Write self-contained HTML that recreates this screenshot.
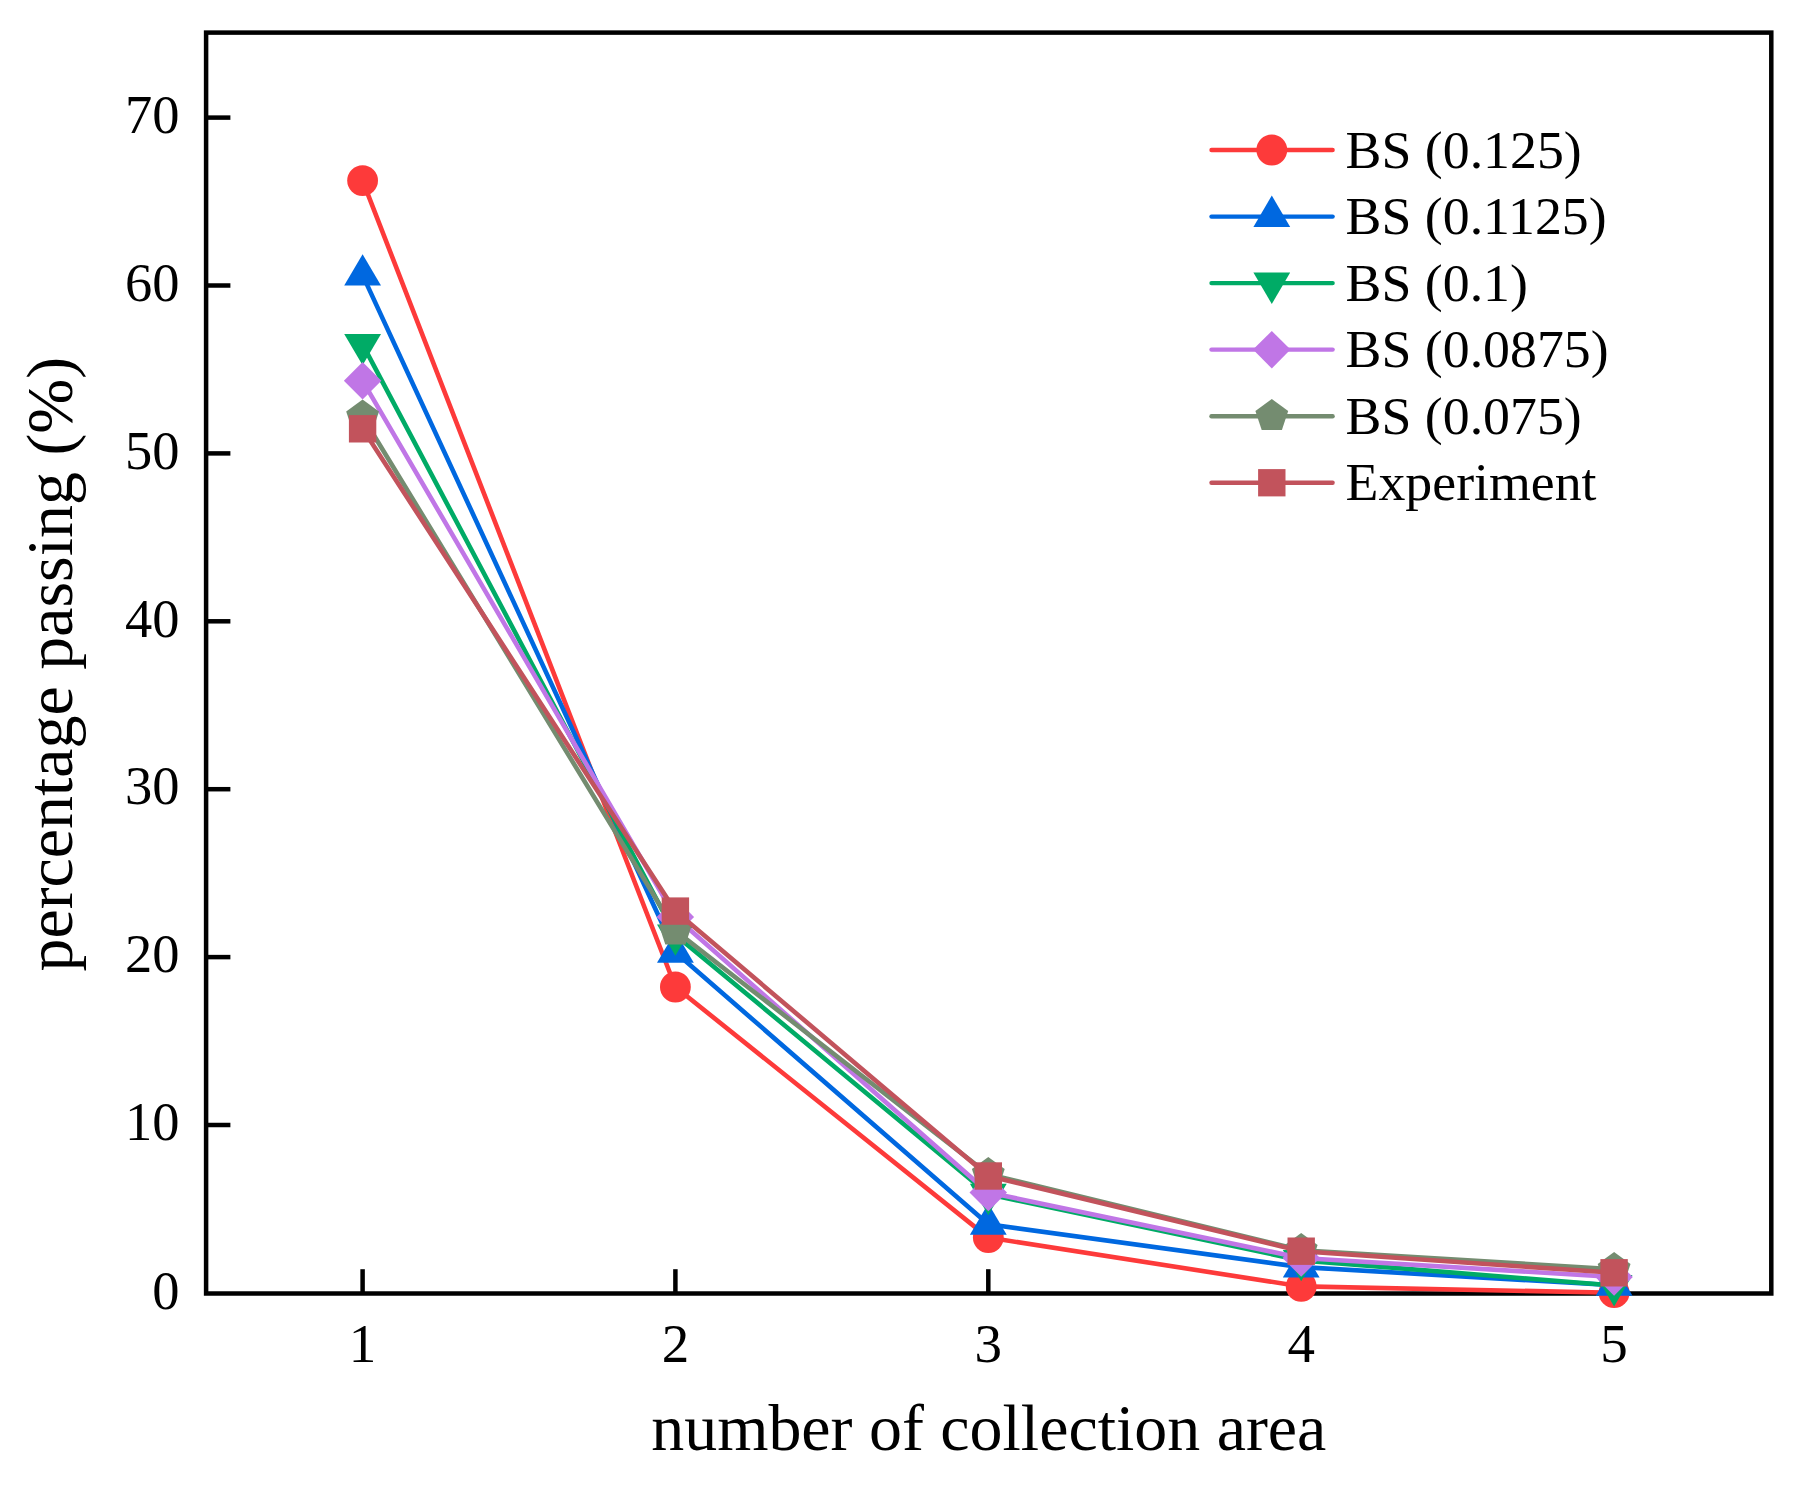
<!DOCTYPE html>
<html lang="en"><head><meta charset="utf-8"><title>percentage passing vs number of collection area</title>
<style>
html,body{margin:0;padding:0;background:#fff;}
body{width:1809px;height:1485px;overflow:hidden;}
svg{display:block;}
text{font-family:"Liberation Serif","Times New Roman",serif;fill:#000;}
.tk{font-size:54.5px;}
.lg{font-size:53.8px;}
.ti{font-size:65.9px;}
</style></head><body>
<svg width="1809" height="1485" viewBox="0 0 1809 1485">
<rect width="1809" height="1485" fill="#fff"/>
<rect x="206.1" y="32.6" width="1565.2" height="1260.9" fill="none" stroke="#000" stroke-width="4.5"/>
<line x1="206.1" y1="1125.0" x2="230.4" y2="1125.0" stroke="#000" stroke-width="4.5"/>
<line x1="206.1" y1="957.1" x2="230.4" y2="957.1" stroke="#000" stroke-width="4.5"/>
<line x1="206.1" y1="789.2" x2="230.4" y2="789.2" stroke="#000" stroke-width="4.5"/>
<line x1="206.1" y1="621.3" x2="230.4" y2="621.3" stroke="#000" stroke-width="4.5"/>
<line x1="206.1" y1="453.4" x2="230.4" y2="453.4" stroke="#000" stroke-width="4.5"/>
<line x1="206.1" y1="285.5" x2="230.4" y2="285.5" stroke="#000" stroke-width="4.5"/>
<line x1="206.1" y1="117.6" x2="230.4" y2="117.6" stroke="#000" stroke-width="4.5"/>
<line x1="362.6" y1="1293.5" x2="362.6" y2="1269.2" stroke="#000" stroke-width="4.5"/>
<line x1="675.4" y1="1293.5" x2="675.4" y2="1269.2" stroke="#000" stroke-width="4.5"/>
<line x1="988.3" y1="1293.5" x2="988.3" y2="1269.2" stroke="#000" stroke-width="4.5"/>
<line x1="1301.2" y1="1293.5" x2="1301.2" y2="1269.2" stroke="#000" stroke-width="4.5"/>
<line x1="1614.1" y1="1293.5" x2="1614.1" y2="1269.2" stroke="#000" stroke-width="4.5"/>
<text class="tk" transform="translate(179.4,1308.7)" text-anchor="end">0</text>
<text class="tk" transform="translate(179.4,1140.2)" text-anchor="end">10</text>
<text class="tk" transform="translate(179.4,972.3)" text-anchor="end">20</text>
<text class="tk" transform="translate(179.4,804.4)" text-anchor="end">30</text>
<text class="tk" transform="translate(179.4,636.5)" text-anchor="end">40</text>
<text class="tk" transform="translate(179.4,468.6)" text-anchor="end">50</text>
<text class="tk" transform="translate(179.4,300.7)" text-anchor="end">60</text>
<text class="tk" transform="translate(179.4,132.8)" text-anchor="end">70</text>
<text class="tk" style="font-size:55px" transform="translate(362.6,1361.5)" text-anchor="middle">1</text>
<text class="tk" style="font-size:55px" transform="translate(675.4,1361.5)" text-anchor="middle">2</text>
<text class="tk" style="font-size:55px" transform="translate(988.3,1361.5)" text-anchor="middle">3</text>
<text class="tk" style="font-size:55px" transform="translate(1301.2,1361.5)" text-anchor="middle">4</text>
<text class="tk" style="font-size:55px" transform="translate(1614.1,1361.5)" text-anchor="middle">5</text>
<text class="ti" x="988.8" y="1450.4" text-anchor="middle">number of collection area</text>
<text class="ti" transform="translate(71.8,664.2) rotate(-90)" text-anchor="middle">percentage passing (%)</text>
<polyline points="362.6,180.6 675.4,987.0 988.3,1237.6 1301.2,1286.4 1614.1,1292.7" fill="none" stroke="#fd3a3a" stroke-width="4.6" stroke-linejoin="round"/>
<circle cx="362.6" cy="180.6" r="15.4" fill="#fd3a3a"/>
<circle cx="675.4" cy="987.0" r="15.4" fill="#fd3a3a"/>
<circle cx="988.3" cy="1237.6" r="15.4" fill="#fd3a3a"/>
<circle cx="1301.2" cy="1286.4" r="15.4" fill="#fd3a3a"/>
<circle cx="1614.1" cy="1292.7" r="15.4" fill="#fd3a3a"/>
<polyline points="362.6,275.1 675.4,952.3 988.3,1224.3 1301.2,1267.1 1614.1,1285.2" fill="none" stroke="#0068e0" stroke-width="4.6" stroke-linejoin="round"/>
<polygon points="362.6,254.2 344.2,285.6 381.0,285.6" fill="#0068e0"/>
<polygon points="675.4,931.4 657.0,962.8 693.8,962.8" fill="#0068e0"/>
<polygon points="988.3,1203.4 969.9,1234.8 1006.7,1234.8" fill="#0068e0"/>
<polygon points="1301.2,1246.2 1282.8,1277.6 1319.6,1277.6" fill="#0068e0"/>
<polygon points="1614.1,1264.3 1595.7,1295.7 1632.5,1295.7" fill="#0068e0"/>
<polyline points="362.6,344.4 675.4,934.9 988.3,1194.3 1301.2,1260.4 1614.1,1285.5" fill="none" stroke="#00ab66" stroke-width="4.6" stroke-linejoin="round"/>
<polygon points="362.6,365.3 344.2,333.9 381.0,333.9" fill="#00ab66"/>
<polygon points="675.4,955.8 657.0,924.4 693.8,924.4" fill="#00ab66"/>
<polygon points="988.3,1215.2 969.9,1183.8 1006.7,1183.8" fill="#00ab66"/>
<polygon points="1301.2,1281.3 1282.8,1249.9 1319.6,1249.9" fill="#00ab66"/>
<polygon points="1614.1,1306.4 1595.7,1275.0 1632.5,1275.0" fill="#00ab66"/>
<polyline points="362.6,380.8 675.4,917.0 988.3,1192.5 1301.2,1258.0 1614.1,1277.0" fill="none" stroke="#c076e6" stroke-width="4.6" stroke-linejoin="round"/>
<polygon points="362.6,362.1 381.4,380.8 362.6,399.6 343.9,380.8" fill="#c076e6"/>
<polygon points="675.4,898.2 694.1,917.0 675.4,935.8 656.6,917.0" fill="#c076e6"/>
<polygon points="988.3,1173.8 1007.0,1192.5 988.3,1211.2 969.5,1192.5" fill="#c076e6"/>
<polygon points="1301.2,1239.2 1320.0,1258.0 1301.2,1276.8 1282.5,1258.0" fill="#c076e6"/>
<polygon points="1614.1,1258.2 1632.8,1277.0 1614.1,1295.8 1595.3,1277.0" fill="#c076e6"/>
<polyline points="362.6,416.7 675.4,930.6 988.3,1174.2 1301.2,1250.2 1614.1,1269.2" fill="none" stroke="#748c70" stroke-width="4.6" stroke-linejoin="round"/>
<polygon points="362.6,399.5 379.0,411.4 372.7,430.6 352.5,430.6 346.2,411.4" fill="#748c70"/>
<polygon points="675.4,913.4 691.8,925.3 685.5,944.5 665.3,944.5 659.0,925.3" fill="#748c70"/>
<polygon points="988.3,1157.0 1004.7,1168.9 998.4,1188.1 978.2,1188.1 971.9,1168.9" fill="#748c70"/>
<polygon points="1301.2,1233.0 1317.6,1244.9 1311.3,1264.1 1291.1,1264.1 1284.8,1244.9" fill="#748c70"/>
<polygon points="1614.1,1252.0 1630.5,1263.9 1624.2,1283.1 1604.0,1283.1 1597.7,1263.9" fill="#748c70"/>
<polyline points="362.6,428.8 675.4,911.1 988.3,1176.0 1301.2,1251.2 1614.1,1272.8" fill="none" stroke="#c2535c" stroke-width="4.6" stroke-linejoin="round"/>
<polygon points="348.9,415.1 376.3,415.1 376.3,442.5 348.9,442.5" fill="#c2535c"/>
<polygon points="661.7,897.4 689.1,897.4 689.1,924.8 661.7,924.8" fill="#c2535c"/>
<polygon points="974.6,1162.3 1002.0,1162.3 1002.0,1189.7 974.6,1189.7" fill="#c2535c"/>
<polygon points="1287.5,1237.5 1314.9,1237.5 1314.9,1264.9 1287.5,1264.9" fill="#c2535c"/>
<polygon points="1600.4,1259.1 1627.8,1259.1 1627.8,1286.5 1600.4,1286.5" fill="#c2535c"/>
<line x1="1211.5" y1="150.0" x2="1332.6" y2="150.0" stroke="#fd3a3a" stroke-width="4.4" stroke-linecap="round"/>
<circle cx="1271.8" cy="150.0" r="15.4" fill="#fd3a3a"/>
<text class="lg" x="1345.6" y="167.7">BS (0.125)</text>
<line x1="1211.5" y1="216.6" x2="1332.6" y2="216.6" stroke="#0068e0" stroke-width="4.4" stroke-linecap="round"/>
<polygon points="1271.8,195.6 1253.4,227.0 1290.2,227.0" fill="#0068e0"/>
<text class="lg" x="1345.6" y="234.2">BS (0.1125)</text>
<line x1="1211.5" y1="283.1" x2="1332.6" y2="283.1" stroke="#00ab66" stroke-width="4.4" stroke-linecap="round"/>
<polygon points="1271.8,304.0 1253.4,272.6 1290.2,272.6" fill="#00ab66"/>
<text class="lg" x="1345.6" y="300.8">BS (0.1)</text>
<line x1="1211.5" y1="349.6" x2="1332.6" y2="349.6" stroke="#c076e6" stroke-width="4.4" stroke-linecap="round"/>
<polygon points="1271.8,330.9 1290.5,349.6 1271.8,368.4 1253.0,349.6" fill="#c076e6"/>
<text class="lg" x="1345.6" y="367.3">BS (0.0875)</text>
<line x1="1211.5" y1="416.2" x2="1332.6" y2="416.2" stroke="#748c70" stroke-width="4.4" stroke-linecap="round"/>
<polygon points="1271.8,399.0 1288.2,410.9 1281.9,430.1 1261.7,430.1 1255.4,410.9" fill="#748c70"/>
<text class="lg" x="1345.6" y="433.9">BS (0.075)</text>
<line x1="1211.5" y1="482.8" x2="1332.6" y2="482.8" stroke="#c2535c" stroke-width="4.4" stroke-linecap="round"/>
<polygon points="1258.1,469.1 1285.5,469.1 1285.5,496.4 1258.1,496.4" fill="#c2535c"/>
<text class="lg" x="1345.6" y="500.4">Experiment</text>
</svg></body></html>
